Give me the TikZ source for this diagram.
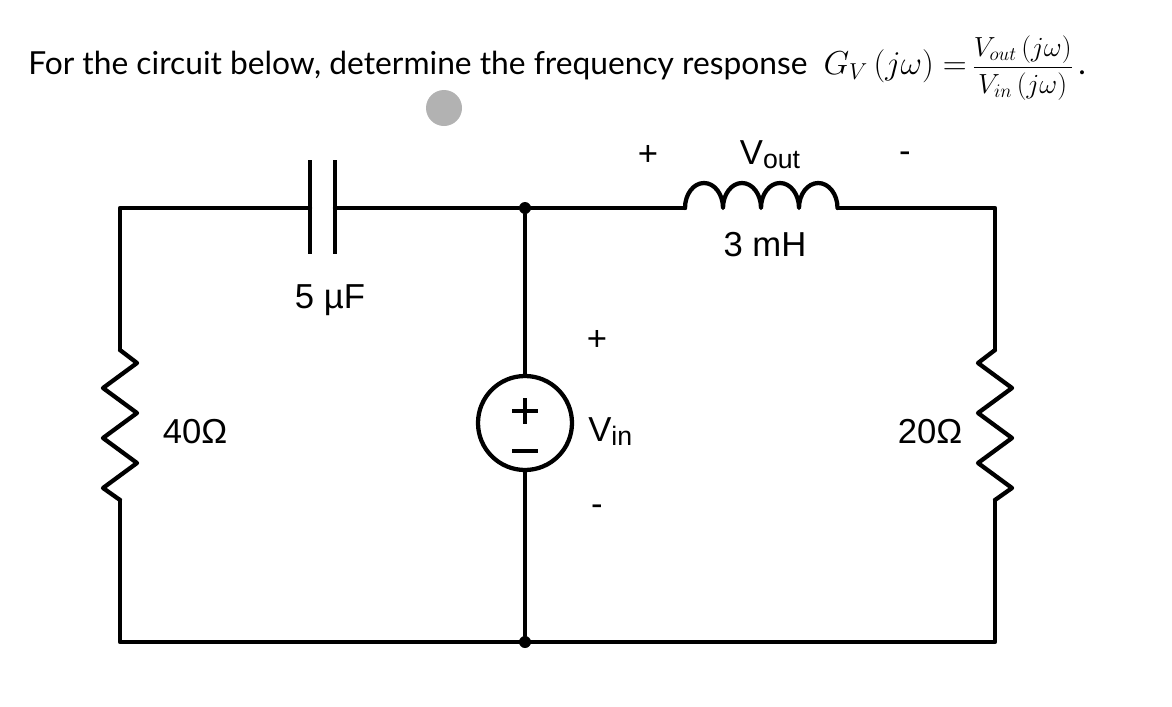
\documentclass[tikz,border=0pt]{standalone}
\usepackage{fontspec}
\usepackage{amsmath}
\setmainfont{Liberation Sans}
\newfontfamily\titlefont{Lato}
\usetikzlibrary{positioning}
\tikzset{
  wire/.style={line width=3.2pt, line cap=round, line join=round},
  lbl/.style={font=\fontsize{26}{30}\selectfont, inner sep=0pt},
  dot/.style={circle, fill=black, inner sep=0pt, minimum size=9pt}
}
\begin{document}
\begin{tikzpicture}[x=0.75pt, y=-0.75pt]
\useasboundingbox (0,0) rectangle (1172,707);
% title
\node[anchor=west, inner sep=0pt, font=\titlefont\fontsize{23.8}{28}\selectfont] (title) at (28,68)
  {For the circuit below, determine the frequency response\ \ {\fontsize{27}{32}\selectfont$G_V\,(j\omega) = $}\,{\fontsize{20}{24}\selectfont$\dfrac{V_{out}\,(j\omega)}{V_{in}\,(j\omega)}$}\,.};
\fill[black!30] (444,108) circle (18);
% corners and junctions
\coordinate (tl) at (120,208);
\coordinate (bl) at (120,642);
\coordinate (tr) at (995,208);
\coordinate (br) at (995,642);
\node[dot] (top) at (525,208) {};
\node[dot] (bot) at (525,642) {};
\coordinate (ca) at (310,208);
\coordinate (cb) at (335,208);
\coordinate (la) at (685,208);
\coordinate (lb) at (838,208);
\node[circle, draw, line width=3.2pt, minimum size=94pt*0.75, inner sep=0pt] (src) at (525,423) {};
% wires
\draw[wire] (ca) -- (tl) -- (120,350);
\draw[wire] (120,500) -- (bl) -- (br) -- (995,500);
\draw[wire] (995,350) -- (tr) -- (lb);
\draw[wire] (cb) -- (top) -- (la);
\draw[wire] (top) -- (src);
\draw[wire] (src) -- (bot);
% capacitor
\draw[wire, line cap=butt] (310,160) -- (310,254) (335,160) -- (335,254);
% resistors
\draw[wire] (120,350) -- (137,363) -- (103,388) -- (137,413) -- (103,438) -- (137,463) -- (103,488) -- (120,500);
\draw[wire] (995,350) -- (978,363) -- (1012,388) -- (978,413) -- (1012,438) -- (978,463) -- (1012,488) -- (995,500);
% inductor
\draw[wire] (la) arc[start angle=180, end angle=360, x radius=19, y radius=25]
  arc[start angle=180, end angle=360, x radius=19, y radius=25]
  arc[start angle=180, end angle=360, x radius=19, y radius=25]
  arc[start angle=180, end angle=360, x radius=19.25, y radius=25];
% source signs
\draw[line width=3pt] (525,398) -- (525,424) (512,411) -- (538,411) (512,451) -- (538,451);
% labels
\node[lbl] (cval) at (330,300) {5 µF};
\node[lbl] (lval) at (765,245) {3 mH};
\node[lbl] (r1) at (195,432) {40Ω};
\node[lbl] (r2) at (930,432) {20Ω};
\node[lbl] (vop) at (648,155) {+};
\node[lbl] (vo) at (770,155) {V\raisebox{-3pt}{\fontsize{20}{22}\selectfont out}};
\node[lbl] (vom) at (905,157) {-};
\node[lbl] (vip) at (597,340) {+};
\node[lbl, anchor=west] (vi) at (588,432) {V\raisebox{-3pt}{\fontsize{20}{22}\selectfont in}};
\node[lbl] (vim) at (597,510) {-};
\end{tikzpicture}
\end{document}
